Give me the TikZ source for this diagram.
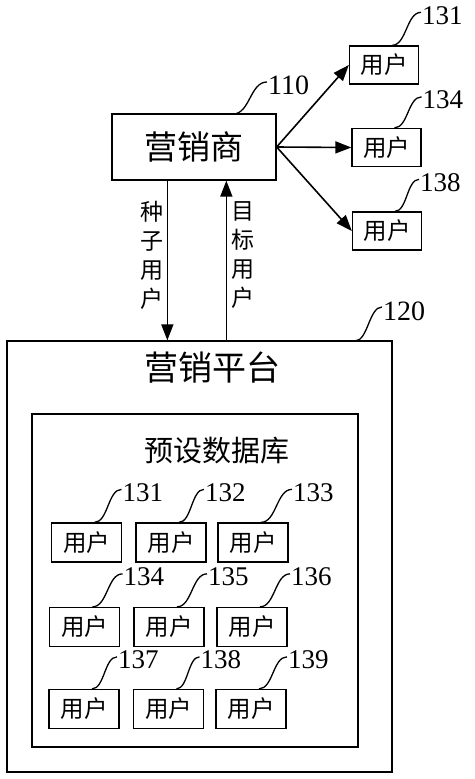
\documentclass[tikz,border=0pt]{standalone}
\usepackage{fontspec}
\setmainfont{Liberation Serif}
\newfontfamily\cjk{Noto Sans CJK SC}
\usetikzlibrary{calc,arrows.meta}
\tikzset{
  box/.style={draw, line width=1.3pt, inner sep=0pt},
  userbox/.style={box, minimum width=69pt, minimum height=38pt, font=\cjk\fontsize{23.5}{26}\selectfont},
  arr/.style={line width=1.6pt, -{Triangle[length=16pt,width=12pt]}},
  leaderline/.style={line width=1.3pt},
  numlbl/.style={font=\fontsize{27}{30}\selectfont, inner sep=1pt, anchor=west},
  vlbl/.style={font=\cjk\fontsize{23}{29}\selectfont, align=center, inner sep=0pt},
}
\newcommand{\ldr}[5]{% box, label, label node name, dx, dy
  \coordinate (#1s) at ($(#1.north)+(8,0)$);
  \coordinate (#1e) at ($(#1s)+(#4,-#5)$);
  \draw[leaderline] (#1s) .. controls ($(#1s)+(0.5*#4,0)$) and ($(#1e)+(-0.5*#4,0)$) .. (#1e);
  \node[numlbl] (#3) at ($(#1e)+(0,3)$) {#2};
}
\begin{document}
\begin{tikzpicture}[x=1pt,y=-1pt]
\useasboundingbox (0,0) rectangle (474,779);
% marketer
\node[box, minimum width=164pt, minimum height=66pt, font=\cjk\fontsize{33}{36}\selectfont] (mk) at (194,147) {营销商};
\coordinate (mks) at (233,114);
\coordinate (mke) at (267,82);
\draw[leaderline] (mks) .. controls ($(mks)+(17,0)$) and ($(mke)+(-17,0)$) .. (mke);
\node[numlbl, font=\fontsize{28}{30}\selectfont] (l110) at ($(mke)+(0,3)$) {110};
% right users
\node[userbox] (u131) at (384,65) {用户};
\node[userbox] (u134) at (386.5,147.5) {用户};
\node[userbox] (u138) at (387,231) {用户};
\ldr{u131}{131}{l131}{29}{33}
\ldr{u134}{134}{l134}{27}{31}
\ldr{u138}{138}{l138}{24}{32}
\draw[arr] (mk.east) -- (u131.west);
\draw[arr] (mk.east) -- (u134.west);
\draw[arr] (mk.east) -- (u138.west);
% platform
\node[box, minimum width=385pt, minimum height=431pt] (plat) at (199.5,556.5) {};
\node[font=\cjk\fontsize{34}{38}\selectfont, inner sep=0pt] (platt) at (212,368) {营销平台};
\coordinate (ps) at (355,341);
\coordinate (pe) at (382,307);
\draw[leaderline] (ps) .. controls ($(ps)+(13,0)$) and ($(pe)+(-13,0)$) .. (pe);
\node[numlbl, font=\fontsize{28}{30}\selectfont] (l120) at ($(pe)+(0,4)$) {120};
% vertical arrows
\coordinate (s1) at ($(mk.south west)+(56,0)$);
\coordinate (s2) at ($(mk.south west)+(115,0)$);
\draw[arr] (s1) -- (s1 |- plat.north);
\draw[arr] (s2 |- plat.north) -- (s2);
\node[vlbl] (seed) at (152,255) {种\\子\\用\\户};
\node[vlbl] (tgt) at (243,255) {目\\标\\用\\户};
% database
\node[box, minimum width=326pt, minimum height=333pt] (db) at (195,580.5) {};
\node[font=\cjk\fontsize{29}{32}\selectfont, inner sep=0pt] (dbt) at (217,451) {预设数据库};
\node[userbox, minimum width=70pt, minimum height=39pt] (g131) at (86.5,542.5) {用户};
\node[userbox, minimum width=70pt, minimum height=39pt] (g132) at (171,542.5) {用户};
\node[userbox, minimum width=70pt, minimum height=39pt] (g133) at (253,542.5) {用户};
\node[userbox, minimum width=70pt, minimum height=39pt] (g134) at (84.5,627) {用户};
\node[userbox, minimum width=70pt, minimum height=39pt] (g135) at (169,627) {用户};
\node[userbox, minimum width=70pt, minimum height=39pt] (g136) at (252,627) {用户};
\node[userbox, minimum width=70pt, minimum height=39pt] (g137) at (84,709) {用户};
\node[userbox, minimum width=70pt, minimum height=39pt] (g138) at (168.5,709) {用户};
\node[userbox, minimum width=70pt, minimum height=39pt] (g139) at (251,709) {用户};
\ldr{g131}{131}{k131}{27}{33}
\ldr{g132}{132}{k132}{25}{33}
\ldr{g133}{133}{k133}{31}{33}
\ldr{g134}{134}{k134}{30}{33}
\ldr{g135}{135}{k135}{30}{33}
\ldr{g136}{136}{k136}{30}{33}
\ldr{g137}{137}{k137}{25}{32}
\ldr{g138}{138}{k138}{23}{32}
\ldr{g139}{139}{k139}{28}{32}
\end{tikzpicture}
\end{document}
